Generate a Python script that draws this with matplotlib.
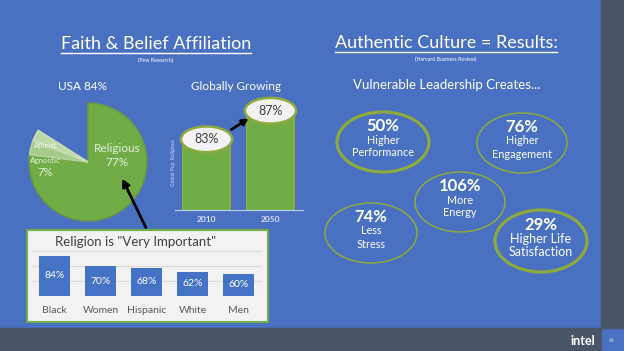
import matplotlib
matplotlib.use('Agg')
import matplotlib.pyplot as plt
from matplotlib.patches import Rectangle, Ellipse

plt.rcParams['font.family'] = ['Lato', 'DejaVu Sans']

# data
pie_labels = ['Religious', 'Agnostic', 'Atheist', 'Other']
pie_values = [77, 4, 3, 16]
global_years = ['2010', '2050']
global_values = [83, 87]
important_groups = ['Black', 'Women', 'Hispanic', 'White', 'Men']
important_values = [84, 70, 68, 62, 60]
culture_pcts = ['50%', '76%', '106%', '74%', '29%']
culture_captions = [['Higher', 'Performance'], ['Higher', 'Engagement'], ['More', 'Energy'],
                    ['Less', 'Stress'], ['Higher Life', 'Satisfaction']]

W, H = 624, 351
BLUE = '#4A70C2'
DARK = '#4A5568'
GREEN = '#70AD47'
OLIVE = '#8DAA3E'


def px_axes(x0, y0, x1, y1):
    return [x0 / W, 1 - y1 / H, (x1 - x0) / W, (y1 - y0) / H]


fig = plt.figure(figsize=(W / 100, H / 100), dpi=100)
fig.patch.set_facecolor(BLUE)

bg = fig.add_axes([0, 0, 1, 1], zorder=0)
bg.set_xlim(0, W)
bg.set_ylim(H, 0)
bg.axis('off')
bg.add_patch(Rectangle((0, 0), W, H, color=BLUE))
bg.add_patch(Rectangle((601, 0), 23, 328, color=DARK))
bg.add_patch(Rectangle((0, 328), 601, 23, color=DARK))
bg.add_patch(Rectangle((27, 230), 241, 92, facecolor='#F2F2F2', edgecolor=GREEN, lw=1.5))

# pie
ax_pie = fig.add_axes(px_axes(28, 102, 148, 222), zorder=2)
wedges, _ = ax_pie.pie(pie_values, startangle=90, counterclock=False,
                       colors=[GREEN, '#A6CB8C', '#BCD9A6', 'none'],
                       wedgeprops=dict(edgecolor='#6A9A40', linewidth=1.2))
ax_pie.set_xlim(-1.02, 1.02)
ax_pie.set_ylim(-1.02, 1.02)
wedges[1].set_edgecolor('#B3D39C')
wedges[2].set_edgecolor('#C8E0B6')
wedges[3].set_edgecolor('none')

# global bar chart
ax_g = fig.add_axes(px_axes(174.5, 88.6, 302.5, 210), zorder=2)
ax_g.patch.set_alpha(0)
xg = range(len(global_values))
ax_g.bar(xg, global_values, width=0.72, color=GREEN, edgecolor=OLIVE, linewidth=1.5)
ax_g.set_xlim(-0.5, 1.5)
ax_g.set_ylim(73, 90)
for sp in ['top', 'right', 'left']:
    ax_g.spines[sp].set_visible(False)
ax_g.spines['bottom'].set_color('#C5D0EA')
ax_g.set_yticks([])
ax_g.set_xticks(list(xg))
ax_g.set_xticklabels(global_years, fontsize=6, color='#DCE3F3', fontweight='bold')
ax_g.tick_params(axis='x', length=0, pad=4)
for i, v in enumerate(global_values):
    ax_g.add_patch(Ellipse((i, v - 0.1), 0.8, 3.6, facecolor='#F2F2F2', edgecolor=OLIVE,
                           lw=1.8, clip_on=False, zorder=3))
    ax_g.text(i, v - 0.1, f'{v}%', ha='center', va='center', fontsize=9, color='#404040',
              zorder=4)

# religion very important chart
ax_r = fig.add_axes(px_axes(31.5, 251, 261.5, 296), zorder=2)
ax_r.patch.set_alpha(0)
xr = range(len(important_values))
ax_r.bar(xr, important_values, width=0.67, color='#4472C4', zorder=2)
ax_r.set_xlim(-0.5, 4.5)
ax_r.set_ylim(30, 90)
ax_r.set_yticks([30, 50, 70, 90])
ax_r.yaxis.grid(True, color='#D9D9D9', lw=0.8)
ax_r.tick_params(axis='y', length=0, labelleft=False)
for sp in ax_r.spines.values():
    sp.set_visible(False)
ax_r.set_xticks(list(xr))
ax_r.set_xticklabels(important_groups, fontsize=7.5, color='#595959')
ax_r.tick_params(axis='x', length=0, pad=7)
for i, v in enumerate(important_values):
    ax_r.text(i, (30 + v) / 2, f'{v}%', ha='center', va='center', fontsize=7.5,
              color='white', zorder=3)

# foreground overlay
fg = fig.add_axes([0, 0, 1, 1], zorder=5)
fg.set_xlim(0, W)
fg.set_ylim(H, 0)
fg.axis('off')
fg.patch.set_alpha(0)

renderer = fig.canvas.get_renderer()


def title(x, y, s, size):
    t = fg.text(x, y, s, ha='center', va='center', fontsize=size, color='white')
    bb = t.get_window_extent(renderer)
    yline = H - bb.y0 + 1
    fg.plot([bb.x0, bb.x1], [yline, yline], color='white', lw=1)


title(156, 44, 'Faith & Belief Affiliation', 13)
fg.text(156, 60, '(Pew Research)', ha='center', va='center', fontsize=3.8, color='white')
title(446, 43, 'Authentic Culture = Results:', 13)
fg.text(446, 59, '(Harvard Business Review)', ha='center', va='center', fontsize=3.8, color='white')
fg.text(82, 87, 'USA 84%', ha='center', va='center', fontsize=8.5, color='white')
fg.text(236, 87, 'Globally Growing', ha='center', va='center', fontsize=8.5, color='white')
fg.text(447, 85, 'Vulnerable Leadership Creates...', ha='center', va='center', fontsize=9.5,
        color='white')

# pie labels
pc = '#E2EFDA'
fg.text(117, 148, 'Religious', ha='center', va='center', fontsize=8.5, color=pc)
fg.text(117, 162, '77%', ha='center', va='center', fontsize=8.5, color=pc)
fg.text(45, 146, 'Atheist', ha='center', va='center', fontsize=5.2, color='#F4F8F0')
fg.text(45, 160, 'Agnostic', ha='center', va='center', fontsize=5.8, color=pc)
fg.text(45, 173, '7%', ha='center', va='center', fontsize=8, color=pc)
fg.text(173, 163, 'Global Pop. Religious', ha='center', va='center', fontsize=3.6,
        color='#D0D8EE', rotation=90)

# arrows
fg.annotate('', xy=(121, 176), xytext=(147, 230),
            arrowprops=dict(arrowstyle='-|>', color='black', lw=2, mutation_scale=11))
fg.annotate('', xy=(251, 117), xytext=(229, 131),
            arrowprops=dict(arrowstyle='-|>', color='black', lw=2, mutation_scale=9))

# box title
fg.text(136, 242, 'Religion is "Very Important"', ha='center', va='center', fontsize=9.5,
        color='#404040')

# culture bubbles
bubble_pos = [(383, 142, 92, 60, 2.3), (522, 143, 90, 60, 1.1), (460, 202, 90, 60, 1.1),
              (371, 233, 92, 60, 1.1), (541, 241, 92, 62, 2.3)]
for (cx, cy, bw, bh, lw), pct, cap in zip(bubble_pos, culture_pcts, culture_captions):
    fg.add_patch(Ellipse((cx, cy), bw, bh, facecolor='none', edgecolor=OLIVE, lw=lw))
    big = pct == '29%'
    fg.text(cx, cy - 16, pct, ha='center', va='center', fontsize=12, fontweight='bold',
            color='white')
    fg.text(cx, cy - 2, cap[0], ha='center', va='center', fontsize=9 if big else 7.8,
            color='white')
    fg.text(cx, cy + 11, cap[1], ha='center', va='center', fontsize=9 if big else 7.8,
            color='white')

# footer
fg.text(583, 341, 'intel', ha='center', va='center', fontsize=9, fontweight='bold', color='white')
fg.text(612, 340, '64', ha='center', va='center', fontsize=3.5, color='#C8D2EC')

fig.savefig('out.png', dpi=100, facecolor=BLUE)
